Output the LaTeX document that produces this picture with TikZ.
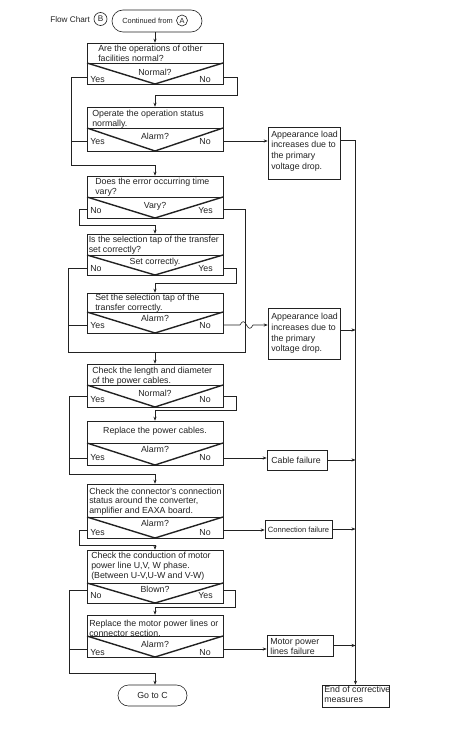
\documentclass[tikz,border=0pt]{standalone}
\usepackage{fontspec}
\setmainfont{Liberation Sans}
\usetikzlibrary{arrows.meta,shapes.misc,fit,calc}
\newcommand\flowfont{\fontsize{8.8}{10}\selectfont}
\newcommand\smallflowfont{\fontsize{7.6}{9}\selectfont}
\definecolor{ink}{HTML}{222222}
% name, top, div, bot, exit, question, question baseline, left label, label baseline
\newcommand\decbox[9]{%
  \node[box, fit={(87,#2)(223,#4)}] (#1) {};
  \draw[ink] (87,#3) -- (223,#3);
  \draw[vee] (87,#3) -- (155,#4) -- (223,#3);
  \coordinate (#1w) at (87,#5);
  \coordinate (#1e) at (223,#5);
  \node[lbl, anchor=base] (#1q) at (155,#7) {#6};
  \node[lbl, anchor=base west] (#1l) at (90,#9) {#8};
}
\begin{document}
\begin{tikzpicture}[x=1pt,y=-1pt,line width=0.6pt,
  box/.style={draw=ink, inner sep=0pt, line width=0.6pt},
  vee/.style={draw=ink, line width=1.4pt, line join=round},
  txt/.style={inner sep=0pt, anchor=north west, align=left, font=\flowfont, text=ink},
  lbl/.style={inner sep=0pt, font=\flowfont, text=ink},
  conn/.style={draw=ink, line width=0.6pt},
  arr/.style={conn, -{Stealth[length=4pt,width=3.2pt]}},
  pill/.style={draw=ink, rounded rectangle, inner sep=0pt, line width=0.6pt},
  letter/.style={draw=ink, circle, inner sep=0pt, text=ink, line width=0.6pt}
]
\useasboundingbox (0,0) rectangle (474,735);

% header
\node[lbl, anchor=base west, font=\fontsize{8.2}{10}\selectfont] (fc) at (50,22.5) {Flow Chart};
\node[letter, minimum size=13pt, font=\fontsize{8.2}{10}\selectfont] (cb) at (100.5,19) {B};
\node[pill, minimum width=90pt, minimum height=22pt] (cont) at (157,21) {};
\node[lbl, anchor=base west, font=\fontsize{7.4}{9}\selectfont] (contt) at (122,23.5) {Continued from};
\node[letter, minimum size=11pt, font=\fontsize{7.4}{9}\selectfont] (ca) at (182,20.5) {A};

% decision boxes
\decbox{b1}{43}{63}{84}{77}{Normal?}{75.5}{Yes}{82.5}
\node[lbl, anchor=base east] (b1r) at (211,82.5) {No};
\node[txt] (b1t) at (98,45.1) {Are the operations of other\\facilities normal?};

\decbox{b2}{107}{128}{151}{141}{Alarm?}{139.5}{Yes}{145}
\node[lbl, anchor=base east] (b2r) at (211,145) {No};
\node[txt] (b2t) at (92,110.1) {Operate the operation status\\normally.};

\decbox{b3}{176}{197}{218}{209}{Vary?}{208.5}{No}{214}
\node[lbl, anchor=base east] (b3r) at (213,214) {Yes};
\node[txt] (b3t) at (95,178.1) {Does the error occurring time\\vary?};

\decbox{b4}{234}{255}{275}{268}{Set correctly.}{264.5}{No}{271.5}
\node[lbl, anchor=base east] (b4r) at (213,271.5) {Yes};
\node[txt] (b4t) at (88.5,236.1) {Is the selection tap of the transfer\\set correctly?};

\decbox{b5}{293}{312}{333}{325}{Alarm?}{321.5}{Yes}{328.5}
\node[lbl, anchor=base east] (b5r) at (211,328.5) {No};
\node[txt] (b5t) at (95,294.1) {Set the selection tap of the\\transfer correctly.};

\decbox{b6}{364}{385}{407}{396}{Normal?}{396.5}{Yes}{402.5}
\node[lbl, anchor=base east] (b6r) at (211,402.5) {No};
\node[txt] (b6t) at (92,367.1) {Check the length and diameter\\of the power cables.};

\decbox{b7}{421}{443}{465}{458}{Alarm?}{452.5}{Yes}{460}
\node[lbl, anchor=base east] (b7r) at (211,460) {No};
\node[lbl, anchor=base] (b7t) at (155,433.5) {Replace the power cables.};

\decbox{b8}{484}{517}{538}{530}{Alarm?}{526.5}{Yes}{535}
\node[lbl, anchor=base east] (b8r) at (211,535) {No};
\node[txt, font=\fontsize{8.8}{9.7}\selectfont] (b8t) at (89,487.6) {Check the connector's connection\\status around the converter,\\amplifier and EAXA board.};

\decbox{b9}{550}{583}{603}{590}{Blown?}{592.5}{No}{598.5}
\node[lbl, anchor=base east] (b9r) at (213,598.5) {Yes};
\node[txt] (b9t) at (91,552.1) {Check the conduction of motor\\power line U,V, W phase.\\(Between U-V,U-W and V-W)};

\decbox{b10}{615}{636}{657}{649}{Alarm?}{647.5}{Yes}{655}
\node[lbl, anchor=base east] (b10r) at (211,655) {No};
\node[txt] (b10t) at (89,620.1) {Replace the motor power lines or\\connector section.};

% right-hand boxes
\node[box, fit={(268,127)(340,179)}] (app1) {};
\node[txt, font=\fontsize{8.8}{10.7}\selectfont] (app1t) at (271,130.6) {Appearance load\\increases due to\\the primary\\voltage drop.};
\node[box, fit={(268,308)(340,359)}] (app2) {};
\node[txt, font=\fontsize{8.8}{10.7}\selectfont] (app2t) at (271,313.1) {Appearance load\\increases due to\\the primary\\voltage drop.};
\node[box, fit={(267,450)(327,470)}] (cable) {};
\node[lbl, anchor=base] (cablet) at (296,463) {Cable failure};
\node[box, fit={(265,520)(332,538)}] (connf) {};
\node[lbl, font=\smallflowfont, anchor=base] (connft) at (298.5,532) {Connection failure};
\node[box, fit={(267,635)(333,656)}] (motor) {};
\node[txt] (motort) at (270,638.1) {Motor power\\lines failure};
\node[box, fit={(322,685)(389,707)}] (endb) {};
\node[txt] (endt) at (324,686.1) {End of corrective\\measures};

% terminator
\node[pill, minimum width=69pt, minimum height=21pt] (goc) at (152.5,695.5) {};
\node[lbl, anchor=base] (goct) at (152.5,698.5) {Go to C};

% connectors
\draw[arr] (cont.south -| b1.north) -- (b1.north);

\draw[arr] (b1w) -- ++(-16,0) -- ++(0,88) -| (b3.north);
\draw[conn] (b2w) -- ++(-16,0);
\draw[arr] (b1e) -- ++(14,0) -- ++(0,18) -| (b2.north);
\draw[arr] (b2e) -- (app1.west |- b2e);
\coordinate (app1e) at (340,140);
\draw[arr] (app1e) -| (endb.north);

\coordinate (j1) at (68,352);
\coordinate (j1r) at (245,352);
\draw[arr] (b3w) -- ++(-8,0) -- ++(0,16) -| (b4.north);
\draw[conn] (b3e) -| (j1r) -- (j1);
\draw[conn] (b4w) -| (j1);
\draw[conn] (b5w) -- (b5w -| j1);
\draw[arr] (b6.north |- j1) -- (b6.north);
\draw[arr] (b4e) -- ++(13,0) -- ++(0,15) -| (b5.north);
\draw[arr] (b5e) -- (240,325) .. controls (242.5,320.5) and (244,320.5) .. (246.5,325) .. controls (249,329.5) and (250.5,329.5) .. (253,325) -- (app2.west |- b5e);
\coordinate (app2e) at (340,330);
\draw[arr] (app2e) -- (app2e -| endb.north);

\draw[arr] (b6w) -- ++(-18,0) -- ++(0,78) -| (b8.north);
\draw[conn] (b7w) -- ++(-18,0);
\draw[arr] (b6e) -- ++(13,0) -- ++(0,14) -| (b7.north);
\draw[arr] (b7e) -- (cable.west |- b7e);
\draw[arr] (cable.east) -- (cable.east -| endb.north);

\draw[arr] (b8e) -- (connf.west |- b8e);
\draw[arr] (connf.east) -- (connf.east -| endb.north);
\draw[arr] (b8w) -- ++(-8,0) -- ++(0,15) -| (b9.north);

\draw[arr] (b9w) -- ++(-18,0) -- ++(0,83) -| (b10.south |- goc.north);
\draw[conn] (b10w) -- ++(-18,0);
\draw[arr] (b9e) -- ++(12,0) -- ++(0,17) -| (b10.north);
\draw[arr] (b10e) -- (motor.west |- b10e);
\draw[arr] (motor.east) -- (motor.east -| endb.north);
\end{tikzpicture}
\end{document}
